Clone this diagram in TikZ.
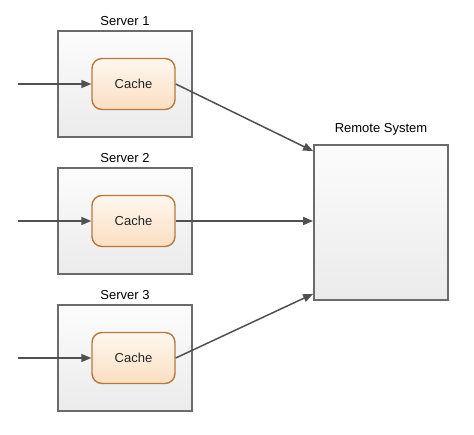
\documentclass[tikz,border=0pt]{standalone}
\usepackage{fontspec}
\setmainfont{Liberation Sans}
\usetikzlibrary{arrows.meta,positioning}

\definecolor{boxline}{HTML}{6B6B6B}
\definecolor{boxtop}{HTML}{FCFCFC}
\definecolor{boxbottom}{HTML}{EBEBEB}
\definecolor{cacheline}{HTML}{B8783A}
\definecolor{cachetop}{HTML}{FEF7EF}
\definecolor{cachebottom}{HTML}{FBDFC2}
\definecolor{arrowline}{HTML}{505050}

\begin{document}
\begin{tikzpicture}[x=1pt,y=-1pt,->,>={Triangle[length=10pt,width=8pt]},
	node distance=137pt,font=\fontsize{13}{15}\selectfont,
	server node/.style={rectangle,draw=boxline,line width=1.8pt,top color=boxtop,bottom color=boxbottom,
		minimum width=134pt,minimum height=106pt,inner sep=0pt},
	remote node/.style={server node,minimum height=155pt},
	cache node/.style={rectangle,rounded corners=10pt,draw=cacheline,line width=1.4pt,
		top color=cachetop,bottom color=cachebottom,text=black!85,
		minimum width=83pt,minimum height=51pt,inner sep=0pt},
	link/.style={color=arrowline,line width=1.5pt}]
	
	\useasboundingbox (0,0) rectangle (474,435);
	
	\node[server node,label={[yshift=1pt]above:Server 1}] (s1) at (125,84) {};
	\node[server node,label={[yshift=1pt]above:Server 2},below of=s1] (s2) {};
	\node[server node,label={[yshift=1pt]above:Server 3},below of=s2] (s3) {};
	\node[remote node,label={[yshift=5pt]above:Remote System}] (r) at (381,222.5) {};
	
	\node[cache node] (c1) at ([xshift=8.5pt]s1.center) {Cache};
	\node[cache node] (c2) at ([xshift=8.5pt]s2.center) {Cache};
	\node[cache node] (c3) at ([xshift=8.5pt]s3.center) {Cache};
	
	\coordinate (i1) at ([xshift=-73pt]c1.west);
	\coordinate (i2) at ([xshift=-73pt]c2.west);
	\coordinate (i3) at ([xshift=-73pt]c3.west);
	\coordinate (r1) at ([yshift=-7pt]r.north west);
	\coordinate (r3) at ([yshift=7pt]r.south west);
	
	\path[link]
	(i1) edge (c1)
	(i2) edge (c2)
	(i3) edge (c3)
	(c1.east) edge (r1)
	(c2.east) edge (r.west |- c2.east)
	(c3.east) edge (r3);
\end{tikzpicture}
\end{document}
